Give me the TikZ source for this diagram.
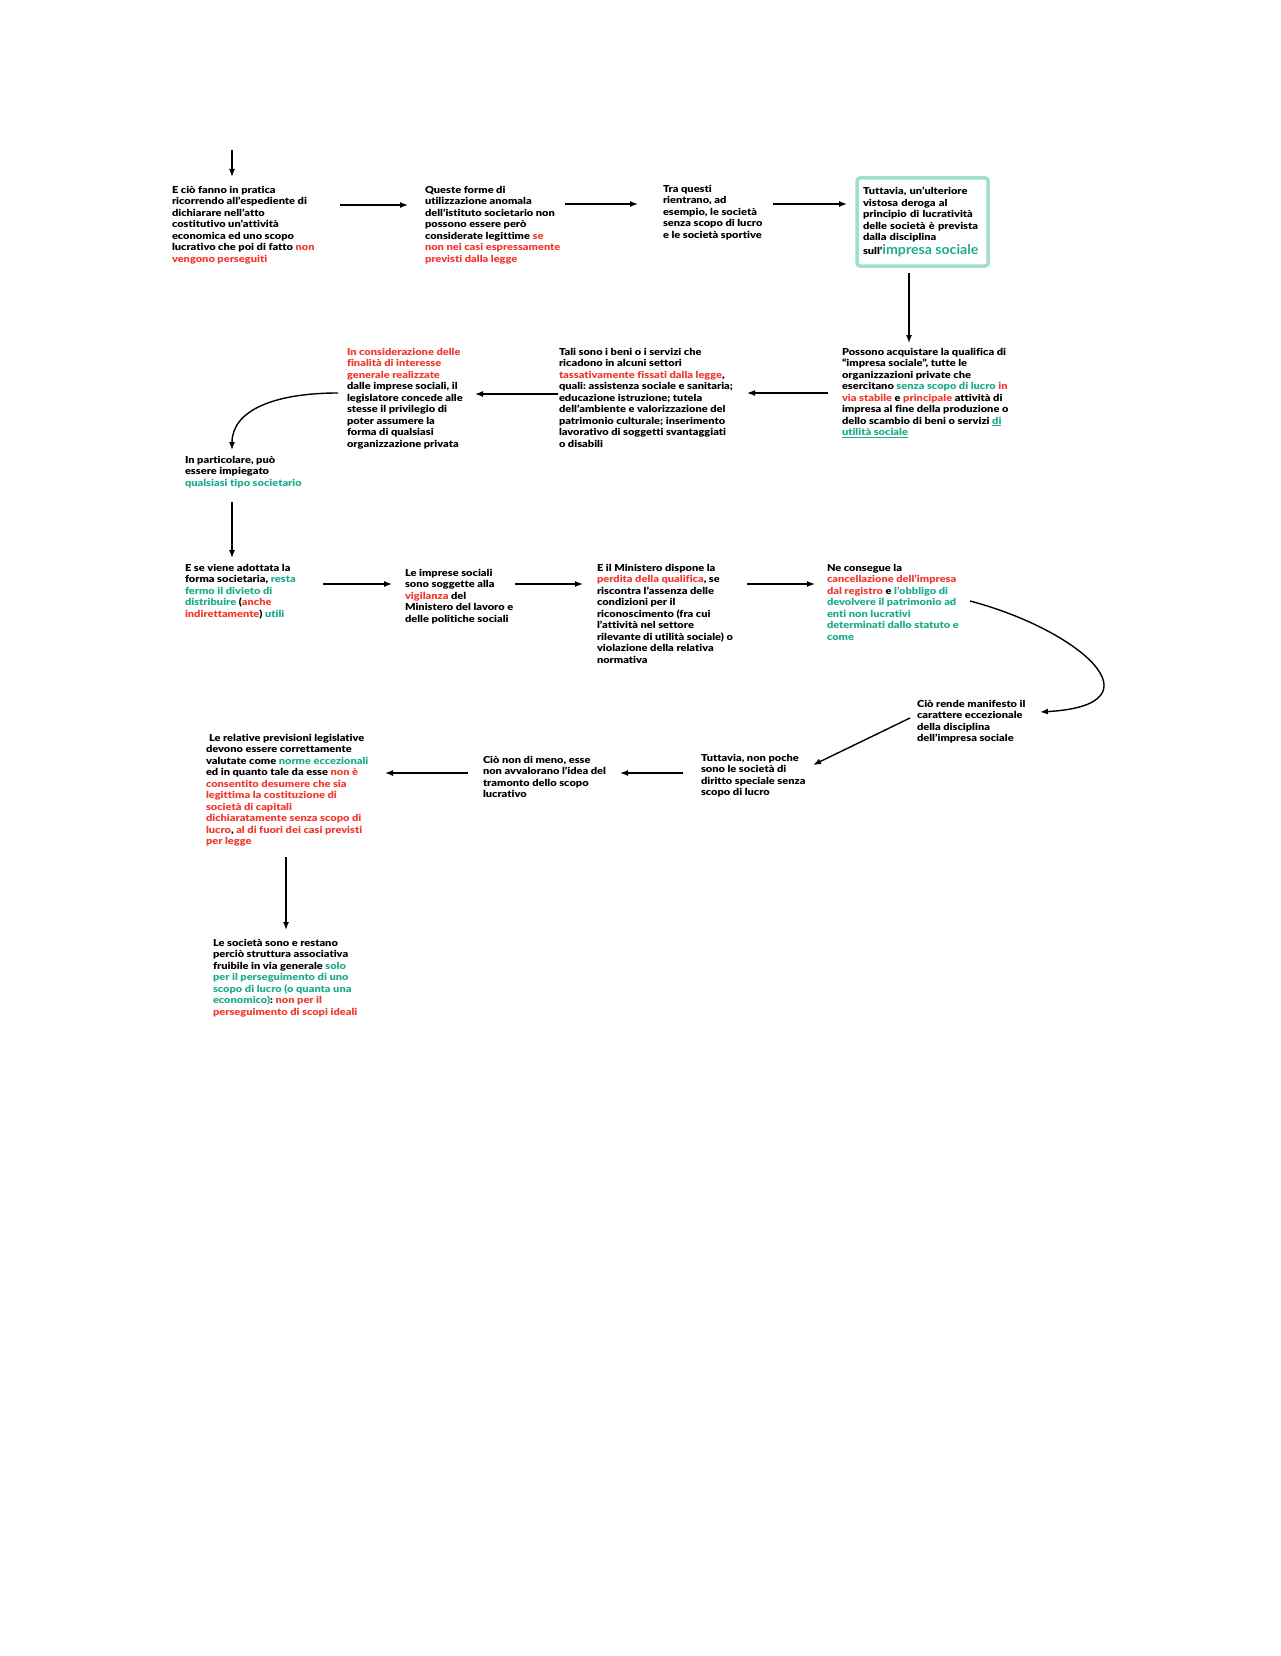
\documentclass[tikz,border=0pt]{standalone}
\usepackage{fontspec}
\setmainfont{Lato}[Ligatures=NoCommon, FakeStretch=1.15, BoldFont={Lato Black}]
\newfontfamily\impfont{Lato}[Ligatures=NoCommon, FakeStretch=1.05]
\usetikzlibrary{arrows.meta,calc}
\definecolor{myred}{RGB}{240,58,48}
\definecolor{myteal}{RGB}{30,172,140}
\definecolor{boxteal}{RGB}{160,222,208}
\newcommand{\rtx}[1]{\textcolor{myred}{#1}}
\newcommand{\ttx}[1]{\textcolor{myteal}{#1}}
\frenchspacing
\begin{document}
\begin{tikzpicture}[x=1pt,y=-1pt,
  txt/.style={anchor=north west, inner sep=0pt, outer sep=0pt, align=left, font={\fontsize{9.6}{11.5}\selectfont\bfseries}},
  arr/.style={-{Latex[length=8pt,width=6pt]}, line width=1.4pt, black}]
\useasboundingbox (0,0) rectangle (1280,1656);
\fill[white] (0,0) rectangle (1280,1656);

\node[txt] (A) at (172,186) {E ciò fanno in pratica\\ ricorrendo all’espediente di\\ dichiarare nell’atto\\ costitutivo un’attività\\ economica ed uno scopo\\ lucrativo che poi di fatto \rtx{non}\\ \rtx{vengono perseguiti}};
\node[txt] (B) at (425,186) {Queste forme di\\ utilizzazione anomala\\ dell’istituto societario non\\ possono essere però\\ considerate legittime \rtx{se}\\ \rtx{non nei casi espressamente}\\ \rtx{previsti dalla legge}};
\node[txt] (C) at (663,185) {Tra questi\\ rientrano, ad\\ esempio, le società\\ senza scopo di lucro\\ e le società sportive};
\node[txt, draw=boxteal, line width=3.5pt, rounded corners=3pt, fill=white, text width=119pt, inner xsep=6pt, inner ysep=0pt, minimum height=88pt] (D) at (857,178) {Tuttavia, un’ulteriore\\ vistosa deroga al\\ principio di lucratività\\ delle società è prevista\\ dalla disciplina\\[1.5pt] \mbox{sull’{\impfont\fontsize{13.5}{14}\selectfont\bfseries\ttx{impresa sociale}}}};

\node[txt] (E) at (842,348) {Possono acquistare la qualifica di\\ “impresa sociale”, tutte le\\ organizzazioni private che\\ esercitano \ttx{senza scopo di lucro} \rtx{in}\\ \rtx{via stabile} e \rtx{principale} attività di\\ impresa al fine della produzione o\\ dello scambio di beni o servizi \ttx{\underline{di}}\\ \ttx{\underline{utilità sociale}}};
\node[txt] (F) at (559,348) {Tali sono i beni o i servizi che\\ ricadono in alcuni settori\\ \rtx{tassativamente fissati dalla legge},\\ quali: assistenza sociale e sanitaria;\\ educazione istruzione; tutela\\ dell’ambiente e valorizzazione del\\ patrimonio culturale; inserimento\\ lavorativo di soggetti svantaggiati\\ o disabili};
\node[txt] (G) at (347,348) {\rtx{In considerazione delle}\\ \rtx{finalità di interesse}\\ \rtx{generale realizzate}\\ dalle imprese sociali, il\\ legislatore concede alle\\ stesse il privilegio di\\ poter assumere la\\ forma di qualsiasi\\ organizzazione privata};
\node[txt] (H) at (185,456) {In particolare, può\\ essere impiegato\\ \ttx{qualsiasi tipo societario}};

\node[txt] (I) at (185,564) {E se viene adottata la\\ forma societaria, \ttx{resta}\\ \ttx{fermo il divieto di}\\ \ttx{distribuire} (\rtx{anche}\\ \rtx{indirettamente}) \ttx{utili}};
\node[txt] (J) at (405,569) {Le imprese sociali\\ sono soggette alla\\ \rtx{vigilanza} del\\ Ministero del lavoro e\\ delle politiche sociali};
\node[txt] (K) at (597,564) {E il Ministero dispone la\\ \rtx{perdita della qualifica}, se\\ riscontra l’assenza delle\\ condizioni per il\\ riconoscimento (fra cui\\ l’attività nel settore\\ rilevante di utilità sociale) o\\ violazione della relativa\\ normativa};
\node[txt] (L) at (827,564) {Ne consegue la\\ \rtx{cancellazione dell’impresa}\\ \rtx{dal registro} e \ttx{l’obbligo di}\\ \ttx{devolvere il patrimonio ad}\\ \ttx{enti non lucrativi}\\ \ttx{determinati dallo statuto e}\\ \ttx{come}};

\node[txt] (M) at (917,700) {Ciò rende manifesto il\\ carattere eccezionale\\ della disciplina\\ dell’impresa sociale};
\node[txt] (N) at (701,754) {Tuttavia, non poche\\ sono le società di\\ diritto speciale senza\\ scopo di lucro};
\node[txt] (O) at (483,756) {Ciò non di meno, esse\\ non avvalorano l’idea del\\ tramonto dello scopo\\ lucrativo};
\node[txt] (P) at (206,734) {\hspace*{3pt}Le relative previsioni legislative\\ devono essere correttamente\\ valutate come \ttx{norme eccezionali}\\ ed in quanto tale da esse \rtx{non è}\\ \rtx{consentito desumere che sia}\\ \rtx{legittima la costituzione di}\\ \rtx{società di capitali}\\ \rtx{dichiaratamente senza scopo di}\\ \rtx{lucro}, \rtx{al di fuori dei casi previsti}\\ \rtx{per legge}};
\node[txt] (Q) at (213,939) {Le società sono e restano\\ perciò struttura associativa\\ fruibile in via generale \ttx{solo}\\ \ttx{per il perseguimento di uno}\\ \ttx{scopo di lucro (o quanta una}\\ \ttx{economico)}: \rtx{non per il}\\ \rtx{perseguimento di scopi ideali}};

\coordinate (top) at ($(A.north west)+(60,-36)$);
\draw[arr] (top) -- ($(A.north west)+(60,-9)$);
\draw[arr] ($(A.north west)+(168,19)$) -- ($(B.north west)+(-17,19)$);
\draw[arr] ($(B.north west)+(140,18)$) -- ($(C.north west)+(-25,19)$);
\draw[arr] ($(C.north west)+(110,19)$) -- ($(D.north west)+(-10,26)$);
\draw[arr] ($(D.south west)+(52,7)$) -- ($(E.north west)+(67,-5)$);
\draw[arr] ($(E.north west)+(-14,45)$) -- ($(F.north west)+(188,45)$);
\draw[arr] ($(F.north west)+(-1,46)$) -- ($(G.north west)+(128,46)$);
\draw[arr] ($(G.north west)+(-9,45)$) .. controls +(-63,0) and +(0,-40) .. ($(H.north west)+(47,-6)$);
\draw[arr] ($(H.north west)+(47,46)$) -- ($(I.north west)+(47,-6)$);
\draw[arr] ($(I.north west)+(138,20)$) -- ($(J.north west)+(-13,15)$);
\draw[arr] ($(J.north west)+(110,15)$) -- ($(K.north west)+(-14,20)$);
\draw[arr] ($(K.north west)+(150,20)$) -- ($(L.north west)+(-12,20)$);
\draw[arr] ($(L.north west)+(143,37)$) .. controls +(110,29) and +(125,-7) .. ($(M.north west)+(123,12)$);
\draw[arr] ($(M.north west)+(-7,18)$) -- ($(N.north west)+(112,11)$);
\draw[arr] ($(N.north west)+(-18,19)$) -- ($(O.north west)+(137,17)$);
\draw[arr] ($(O.north west)+(-15,17)$) -- ($(P.north west)+(179,39)$);
\draw[arr] ($(P.north west)+(80,123)$) -- ($(Q.north west)+(73,-9)$);
\end{tikzpicture}
\end{document}
